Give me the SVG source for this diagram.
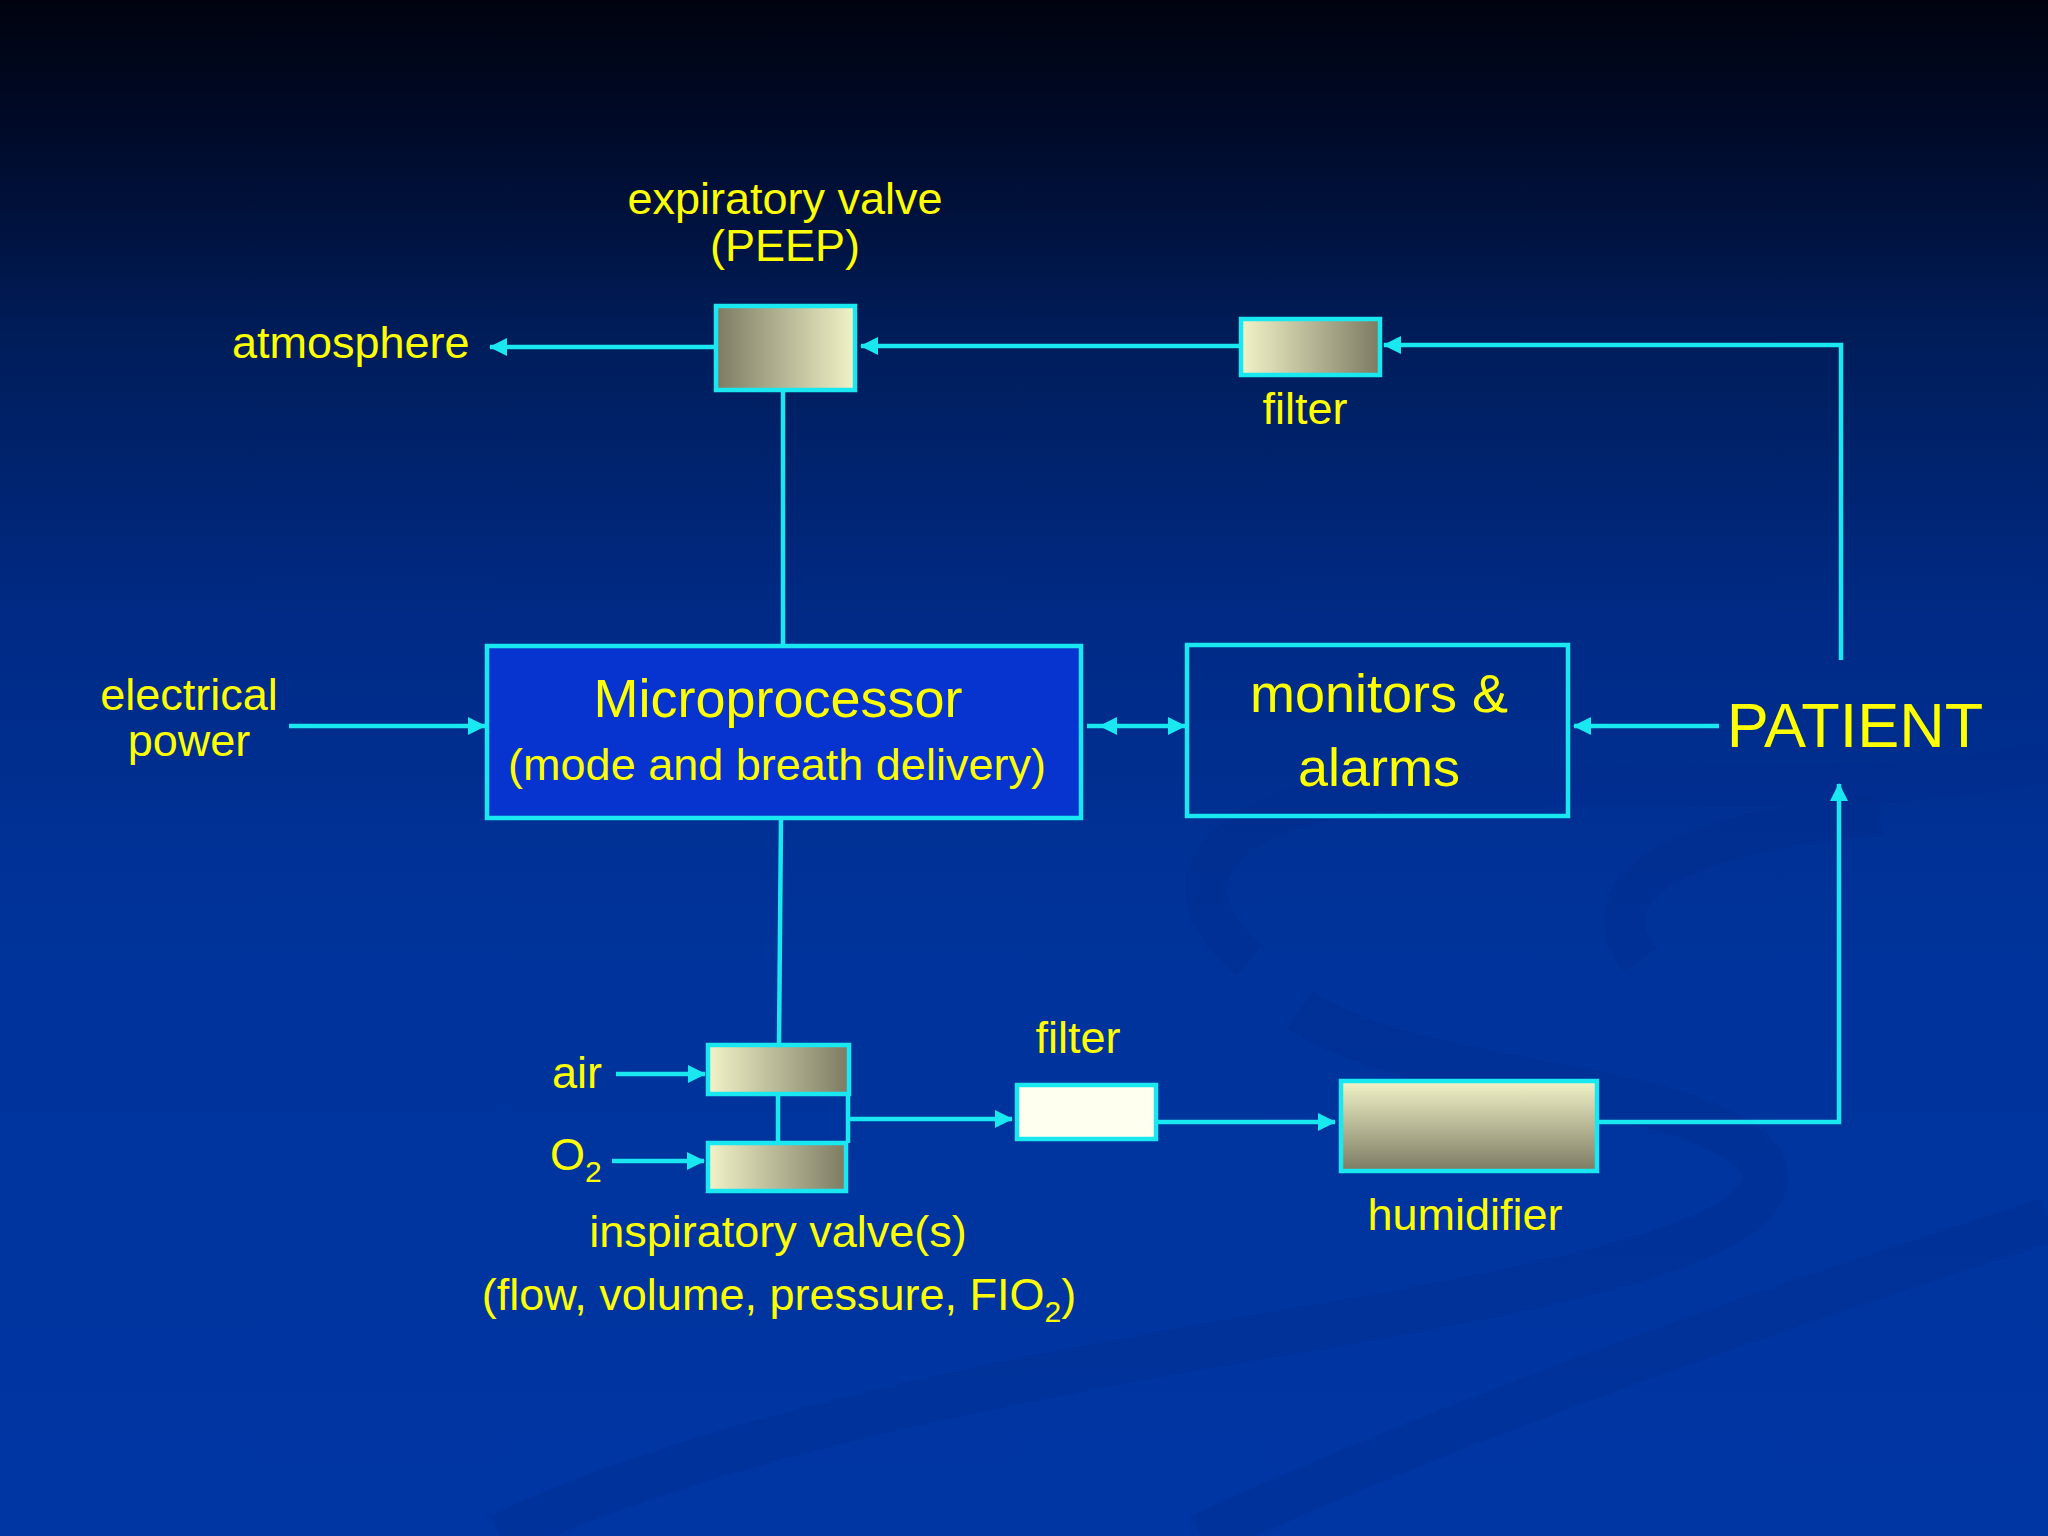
<svg xmlns="http://www.w3.org/2000/svg" width="2048" height="1536" viewBox="0 0 2048 1536">
<defs>
<linearGradient id="bg" x1="0" y1="0" x2="0" y2="1">
<stop offset="0" stop-color="#00030f"/>
<stop offset="0.1" stop-color="#000c2e"/>
<stop offset="0.22" stop-color="#001d5a"/>
<stop offset="0.4" stop-color="#002a85"/>
<stop offset="0.6" stop-color="#00339a"/>
<stop offset="1" stop-color="#0036a4"/>
</linearGradient>
<linearGradient id="gDarkLight" x1="0" y1="0" x2="1" y2="0">
<stop offset="0" stop-color="#7c7b63"/>
<stop offset="1" stop-color="#f3f3c8"/>
</linearGradient>
<linearGradient id="gLightDark" x1="0" y1="0" x2="1" y2="0">
<stop offset="0" stop-color="#f3f3c8"/>
<stop offset="1" stop-color="#7c7b63"/>
</linearGradient>
<linearGradient id="gVert" x1="0" y1="0" x2="0" y2="1">
<stop offset="0" stop-color="#f3f3c8"/>
<stop offset="1" stop-color="#7c7b63"/>
</linearGradient>
<marker id="arr" viewBox="0 0 18 18" refX="17" refY="9" markerWidth="18" markerHeight="18" markerUnits="userSpaceOnUse" orient="auto-start-reverse">
<path d="M0,0 L18,9 L0,18 Z" fill="#19e8f0"/>
</marker>
<style>
.t{font-family:"Liberation Sans",Arial,sans-serif;fill:#ffff00;}
.s{font-size:45px;}
.m{font-size:54px;}
.box{stroke:#19e8f0;stroke-width:4.5;}
.ln{stroke:#19e8f0;stroke-width:4.5;fill:none;}
.ar{marker-end:url(#arr);}
</style>
</defs>
<rect width="2048" height="1536" fill="url(#bg)"/>
<g id="swoosh" fill="none" stroke="#002a8a" stroke-opacity="0.3">
<path d="M1250,960 C1150,880 1230,800 1400,790 C1620,780 1900,800 2048,760" stroke-width="40"/>
<path d="M1640,960 C1580,880 1700,830 1880,815" stroke-width="40"/>
<path d="M1300,1010 C1420,1090 1700,1080 1760,1160 C1800,1230 1600,1280 1300,1330 C1000,1380 700,1440 500,1536" stroke-width="45"/>
<path d="M2048,1220 C1800,1300 1500,1400 1200,1536" stroke-width="45"/>
</g>

<g id="connectors">
<line class="ln ar" x1="716" y1="347" x2="490" y2="347"/>
<line class="ln ar" x1="1241" y1="346" x2="861" y2="346"/>
<polyline class="ln ar" points="1841,660 1841,345 1384,345"/>
<line class="ln" x1="783" y1="390" x2="783" y2="646"/>
<line class="ln ar" x1="289" y1="726" x2="485" y2="726"/>
<line class="ln ar" x1="1100" y1="726" x2="1185" y2="726" style="marker-start:url(#arr)"/>
<line class="ln" x1="1087" y1="726" x2="1100" y2="726"/>
<line class="ln ar" x1="1719" y1="726" x2="1574" y2="726"/>
<line class="ln" x1="781" y1="818" x2="779" y2="1045"/>
<line class="ln" x1="778" y1="1094" x2="778" y2="1143"/>
<line class="ln ar" x1="616" y1="1074" x2="705" y2="1074"/>
<line class="ln ar" x1="612" y1="1161" x2="704" y2="1161"/>
<line class="ln" x1="848" y1="1094" x2="848" y2="1143"/>
<line class="ln ar" x1="849" y1="1119" x2="1012" y2="1119"/>
<line class="ln ar" x1="1157" y1="1122" x2="1335" y2="1122"/>
<polyline class="ln ar" points="1597,1122 1839,1122 1839,784"/>
</g>

<g id="expiratory-valve">
<rect class="box" x="716" y="306" width="139" height="84" fill="url(#gDarkLight)"/>
<text class="t s" x="785" y="214" text-anchor="middle">expiratory valve</text>
<text class="t s" x="785" y="261" text-anchor="middle">(PEEP)</text>
</g>
<g id="atmosphere">
<text class="t s" x="232" y="358">atmosphere</text>
</g>
<g id="filter-top">
<rect class="box" x="1241" y="319" width="139" height="56" fill="url(#gLightDark)"/>
<text class="t s" x="1305" y="424" text-anchor="middle">filter</text>
</g>
<g id="electrical-power">
<text class="t s" x="189" y="710" text-anchor="middle">electrical</text>
<text class="t s" x="189" y="756" text-anchor="middle">power</text>
</g>
<g id="microprocessor">
<rect class="box" x="487" y="646" width="594" height="172" fill="#0734cf"/>
<text class="t m" x="778" y="717" text-anchor="middle">Microprocessor</text>
<text class="t s" x="777" y="780" text-anchor="middle">(mode and breath delivery)</text>
</g>
<g id="monitors-alarms">
<rect class="box" x="1187" y="645" width="381" height="171" fill="none"/>
<text class="t m" x="1379" y="712" text-anchor="middle">monitors &amp;</text>
<text class="t m" x="1379" y="786" text-anchor="middle">alarms</text>
</g>
<g id="patient">
<text class="t" style="font-size:63px" x="1855" y="747" text-anchor="middle">PATIENT</text>
</g>
<g id="air-valve">
<rect class="box" x="708" y="1045" width="141" height="49" fill="url(#gLightDark)"/>
<text class="t s" x="577" y="1088" text-anchor="middle">air</text>
</g>
<g id="o2-valve">
<rect class="box" x="708" y="1143" width="138" height="48" fill="url(#gLightDark)"/>
<text class="t s" x="550" y="1170">O<tspan style="font-size:30px" dy="12">2</tspan></text>
</g>
<g id="inspiratory-label">
<text class="t s" x="778" y="1247" text-anchor="middle">inspiratory valve(s)</text>
<text class="t s" x="779" y="1310" text-anchor="middle">(flow, volume, pressure, FIO<tspan style="font-size:30px" dy="12">2</tspan><tspan dy="-12">)</tspan></text>
</g>
<g id="filter-bottom">
<rect class="box" x="1017" y="1085" width="139" height="54" fill="#fffff0"/>
<text class="t s" x="1078" y="1053" text-anchor="middle">filter</text>
</g>
<g id="humidifier">
<rect class="box" x="1341" y="1081" width="256" height="90" fill="url(#gVert)"/>
<text class="t s" x="1465" y="1230" text-anchor="middle">humidifier</text>
</g>
</svg>
